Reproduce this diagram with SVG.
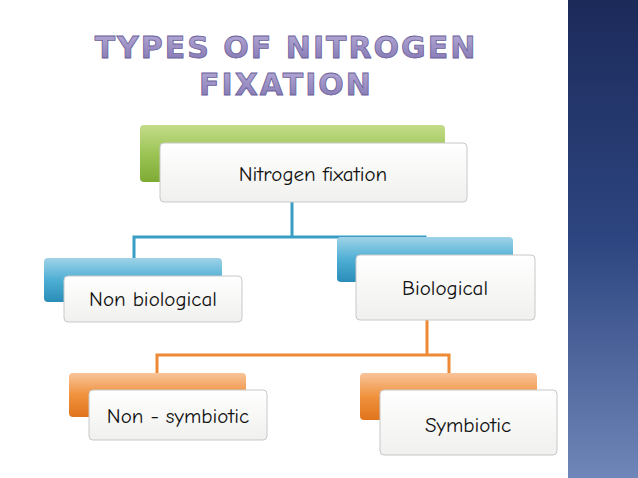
<svg xmlns="http://www.w3.org/2000/svg" width="638" height="478" viewBox="0 0 638 478">
<defs>
<linearGradient id="side" x1="0" y1="0" x2="0" y2="1"><stop offset="0" stop-color="#1c2a5a"/><stop offset="0.5" stop-color="#2d4580"/><stop offset="1" stop-color="#6f86b8"/></linearGradient>
<linearGradient id="g" x1="0" y1="0" x2="0" y2="1"><stop offset="0" stop-color="#c4dc8a"/><stop offset="0.5" stop-color="#9cc456"/><stop offset="1" stop-color="#7eab34"/></linearGradient>
<linearGradient id="b" x1="0" y1="0" x2="0" y2="1"><stop offset="0" stop-color="#9fd3e8"/><stop offset="0.5" stop-color="#4eaed4"/><stop offset="1" stop-color="#2a8db8"/></linearGradient>
<linearGradient id="o" x1="0" y1="0" x2="0" y2="1"><stop offset="0" stop-color="#f8c49a"/><stop offset="0.5" stop-color="#f0923e"/><stop offset="1" stop-color="#e0741c"/></linearGradient>
<linearGradient id="w" x1="0" y1="0" x2="0" y2="1"><stop offset="0" stop-color="#ffffff"/><stop offset="1" stop-color="#f0f0ee"/></linearGradient>
<linearGradient id="t" x1="0" y1="0" x2="0" y2="1"><stop offset="0" stop-color="#b8aed8"/><stop offset="1" stop-color="#7f72b0"/></linearGradient>
</defs>
<style>
.front{fill:url(#w);stroke:#c8c8c8;stroke-width:1}
.lbl{font-family:"Comic Neue","DejaVu Sans",sans-serif;font-size:21px;fill:#111;text-anchor:middle}
.title{font-family:"DejaVu Sans",sans-serif;font-weight:bold;font-size:30px;fill:url(#t);stroke:#6a5f98;stroke-width:0.8;text-anchor:middle;letter-spacing:2px}
</style>
<rect x="0" y="0" width="638" height="478" fill="#fff"/>
<rect x="568" y="0" width="70" height="478" fill="url(#side)"/>
<text class="title" x="286" y="58">TYPES OF NITROGEN</text>
<text class="title" x="286" y="95">FIXATION</text>
<g id="connectors" fill="none" stroke-width="3">
<path d="M292 202V237H134V258M292 237H425V240" stroke="#3a9ec4"/>
<path d="M427 320V355H157V373M427 355H449V373" stroke="#ee8a36"/>
</g>
<g id="n1"><rect x="140" y="125" width="305" height="57" rx="4" fill="url(#g)"/><rect class="front" x="160" y="143" width="307" height="59" rx="4"/><text class="lbl" x="313" y="181">Nitrogen fixation</text></g>
<g id="n2"><rect x="44" y="258" width="178" height="44" rx="4" fill="url(#b)"/><rect class="front" x="64" y="276" width="178" height="46" rx="4"/><text class="lbl" x="153" y="306">Non biological</text></g>
<g id="n3"><rect x="337" y="237" width="176" height="45" rx="4" fill="url(#b)"/><rect class="front" x="356" y="255" width="179" height="65" rx="4"/><text class="lbl" x="445" y="295">Biological</text></g>
<g id="n4"><rect x="69" y="373" width="177" height="44" rx="4" fill="url(#o)"/><rect class="front" x="89" y="390" width="178" height="50" rx="4"/><text class="lbl" x="178" y="423">Non - symbiotic</text></g>
<g id="n5"><rect x="360" y="373" width="177" height="47" rx="4" fill="url(#o)"/><rect class="front" x="380" y="390" width="177" height="65" rx="4"/><text class="lbl" x="468" y="432">Symbiotic</text></g>
</svg>
